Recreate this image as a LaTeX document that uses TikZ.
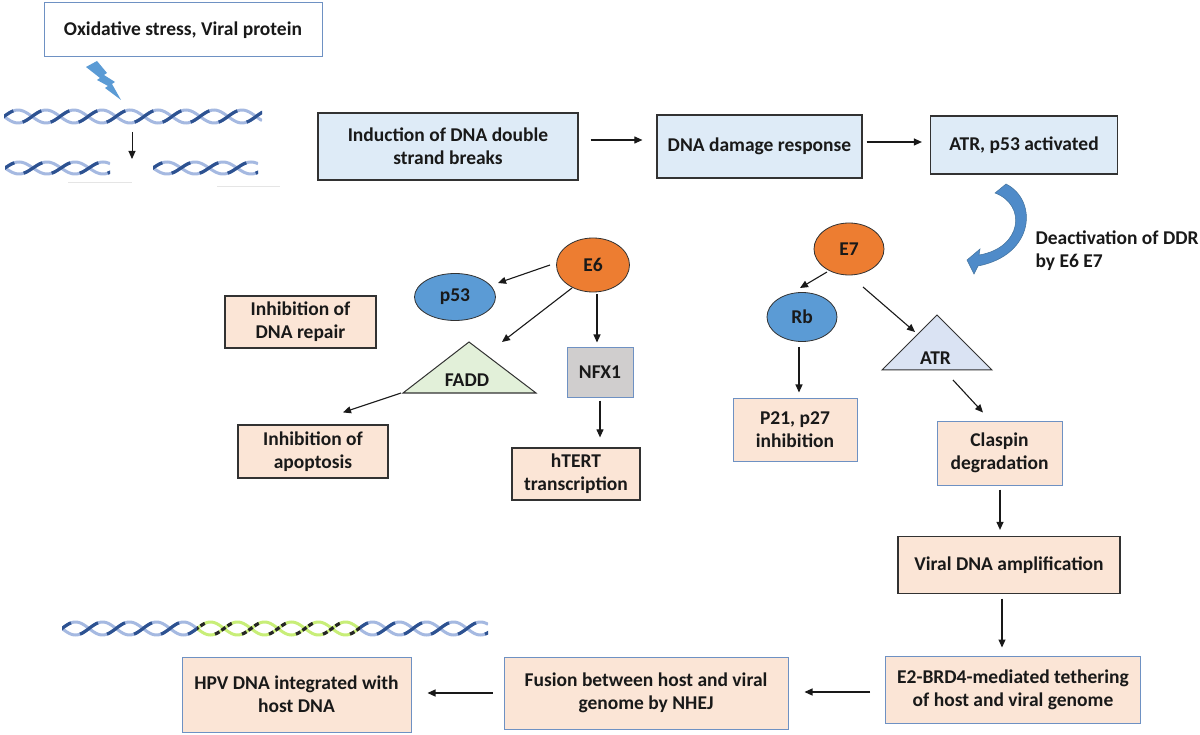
\documentclass[tikz,border=0pt]{standalone}
\usepackage{fontspec}
\setmainfont{Carlito}
\usetikzlibrary{arrows.meta,calc,shapes.geometric}
\definecolor{peach}{RGB}{251,229,214}
\definecolor{lblue}{RGB}{222,235,247}
\definecolor{orng}{RGB}{237,125,49}
\definecolor{mblue}{RGB}{91,155,213}
\definecolor{lgreen}{RGB}{226,240,217}
\definecolor{tblue}{RGB}{218,227,243}
\definecolor{gbox}{RGB}{208,206,206}
\definecolor{dkline}{RGB}{50,50,50}
\definecolor{bline}{RGB}{110,145,195}
\definecolor{arrowblue}{RGB}{79,139,201}
\definecolor{arrowedge}{RGB}{65,113,156}
\definecolor{helixdark}{RGB}{45,82,145}
\definecolor{helixlight}{RGB}{165,185,225}
\definecolor{helixgreen}{RGB}{200,238,120}
\tikzset{
  bluefront/.style={draw=helixdark},
  blueback/.style={draw=helixlight},
  greenback/.style={draw=helixgreen},
  greenfront/.style={draw=black!85, dash pattern=on 5pt off 2.5pt},
}
% #1 x0, #2 x1, #3 phase origin, #4 centre y, #5 amplitude, #6 period, #7 back style, #8 front style
\newcommand{\helixrib}[8]{%
  \begin{scope}
    \clip (#1,#4-#5-5) rectangle (#2,#4+#5+5);
    \draw[#7, line width=3pt] plot[domain=#1:#2, samples=120, smooth] (\x,{#4+#5*sin((\x-#3)/#6*360)});
    \draw[#7, line width=3pt] plot[domain=#1:#2, samples=120, smooth] (\x,{#4-#5*sin((\x-#3)/#6*360)});
    \foreach \j in {-1,...,18}{%
      \pgfmathsetmacro{\xs}{#3+#6/4+\j*#6/2}%
      \pgfmathsetmacro{\xa}{\xs+#6/12}%
      \pgfmathsetmacro{\xb}{\xs+#6/2-#6/12}%
      \draw[#8, line width=3.2pt] plot[domain=\xa:\xb, samples=10, smooth] (\x,{#4+#5*cos((\x-\xs)/#6*360)});
    }
  \end{scope}
}
\begin{document}
\begin{tikzpicture}[x=1pt,y=-1pt,
  txt/.style={font=\fontsize{19.5}{23}\selectfont\bfseries, text=black!90, align=center},
  dbox/.style={txt, draw=dkline, line width=1.2pt, rectangle, inner sep=0pt},
  bbox/.style={txt, draw=bline, line width=1pt, rectangle, inner sep=0pt},
  oval/.style={txt, draw=dkline, line width=0.8pt, ellipse, inner sep=0pt},
  arr/.style={-{Triangle[length=8pt,width=7pt]}, line width=1.1pt, draw=black!90},
  tri/.style={draw=dkline, line width=1pt, line join=miter},
]
\useasboundingbox (0,0) rectangle (1200,735);
\fill[white] (0,0) rectangle (1200,735);

% top-left: stress box, bolt, DNA
\node[bbox, fill=white, minimum width=278pt, minimum height=54pt] (ox) at (183,30) {Oxidative stress, Viral protein};
\fill[mblue] (86,67) -- (97,61) -- (107,73) -- (104,75) -- (115,82) -- (112,84) -- (121,100) -- (105,88) -- (108,86) -- (97,80) -- (100,78) -- cycle;
\helixrib{4}{262}{4}{116.5}{6.5}{56}{blueback}{bluefront}
\helixrib{5}{110}{5}{168}{6}{56}{blueback}{bluefront}
\helixrib{153}{258}{153}{168}{6}{56}{blueback}{bluefront}
\draw[black!10, line width=1pt] (68,183) -- (132,183);
\draw[black!10, line width=1pt] (217,187) -- (280,187);
\coordinate (hxa) at (132,132);
\coordinate (hxb) at (132,159);
\draw[arr, line width=0.9pt] (hxa) -- (hxb);

% top row
\node[dbox, fill=lblue, minimum width=260pt, minimum height=67pt] (ind) at (448,146.5) {Induction of DNA double\\strand breaks};
\node[dbox, fill=lblue, minimum width=205pt, minimum height=63pt] (ddr) at (759.5,146.5) {DNA damage response};
\node[dbox, fill=lblue, minimum width=187pt, minimum height=58pt] (atrp) at (1024,145) {ATR, p53 activated};
\draw[arr] ($(ind.east)+(12,-6.5)$) -- ($(ddr.west)+(-14,-6.5)$);
\draw[arr] ($(ddr.east)+(4,-4.5)$) -- ($(atrp.west)+(-8,-3)$);

% curved block arrow
\filldraw[fill=arrowblue, draw=arrowedge, line width=0.5pt, line join=miter]
  (1006,184) .. controls (1038,200) and (1035,255) .. (978,266)
  -- (974,274) -- (967,260) -- (980,249) -- (979,255)
  .. controls (1022,248) and (1027,205) .. (995,193) -- cycle;
\node[txt, anchor=west, align=left] (deact) at (1032,251) {Deactivation of DDR\\by E6 E7};

% E6 branch
\node[oval, fill=orng, minimum width=73pt, minimum height=54pt] (e6) at (593,265) {E6};
\node[oval, fill=mblue, minimum width=81pt, minimum height=47pt] (p53) at (455,297) {p53};
\node[dbox, fill=peach, minimum width=151pt, minimum height=52pt] (inh) at (300.5,322) {Inhibition of\\DNA repair};
\coordinate (faddtop) at (469,342);
\coordinate (faddl) at (403,393);
\coordinate (faddr) at (536,393);
\filldraw[tri, fill=lgreen] (faddtop) -- (faddr) -- (faddl) -- cycle;
\node[txt] (fadd) at (467,380) {FADD};
\node[bbox, fill=gbox, minimum width=66pt, minimum height=49pt] (nfx) at (600,372.5) {NFX1};
\node[dbox, fill=peach, minimum width=150pt, minimum height=53pt] (apop) at (313,451.5) {Inhibition of\\apoptosis};
\node[dbox, fill=peach, minimum width=128pt, minimum height=52pt] (htert) at (576,474) {hTERT\\transcription};
\draw[arr] ($(e6)+(-43,0)$) -- ($(p53)+(43,-14)$);
\draw[arr] ($(e6)+(-21,23)$) -- ($(faddtop)+(33,0)$);
\draw[arr] ($(e6.south)+(4,2)$) -- ($(nfx.north)+(-3,-5)$);
\draw[arr] ($(faddl)+(-2,0)$) -- ($(apop.north)+(30,-12)$);
\draw[arr] ($(nfx.south)+(0,3)$) -- ($(htert.north)+(24,-10)$);

% E7 branch
\node[oval, fill=orng, minimum width=70pt, minimum height=52pt] (e7) at (849,249) {E7};
\node[oval, fill=mblue, minimum width=70pt, minimum height=49pt] (rb) at (802,317) {Rb};
\coordinate (atrtop) at (937,315);
\coordinate (atrl) at (882,370);
\coordinate (atrr) at (992,370);
\filldraw[tri, fill=tblue] (atrtop) -- (atrr) -- (atrl) -- cycle;
\node[txt] (atr) at (935.5,358) {ATR};
\node[bbox, fill=peach, minimum width=124pt, minimum height=63pt] (p21) at (795,429.5) {P21, p27\\inhibition};
\node[bbox, fill=peach, minimum width=125pt, minimum height=64pt] (clasp) at (999.5,453) {Claspin\\degradation};
\draw[arr] ($(e7)+(-22,23)$) -- ($(rb)+(-2,-29)$);
\draw[arr] ($(e7)+(14,38)$) -- ($(atrtop)+(-22,17)$);
\draw[arr] ($(rb.south)+(-3,5)$) -- ($(p21.north)+(4,-5)$);
\draw[arr] ($(atrtop)+(16,65)$) -- ($(clasp.north)+(-16.5,-8)$);

% lower chain
\node[dbox, fill=peach, minimum width=222pt, minimum height=57pt] (viral) at (1009,565) {Viral DNA amplification};
\node[bbox, fill=peach, minimum width=255pt, minimum height=67pt] (e2) at (1013,689.5) {E2-BRD4-mediated tethering\\of host and viral genome};
\node[bbox, fill=peach, minimum width=284pt, minimum height=72pt] (fus) at (646,693) {Fusion between host and viral\\genome by NHEJ};
\node[bbox, fill=peach, minimum width=229pt, minimum height=75pt] (hpv) at (296.5,694.5) {HPV DNA integrated with\\host DNA};
\draw[arr] ($(clasp.south)+(0.5,4)$) -- ($(viral.north)+(-9,-6)$);
\draw[arr] ($(viral.south)+(-7,4.5)$) -- ($(e2.north)+(-11,-8)$);
\draw[arr] ($(e2.west)+(-15,2.5)$) -- ($(fus.east)+(16,-1)$);
\draw[arr] ($(fus.west)+(-11,0)$) -- ($(hpv.east)+(16,-1.5)$);

% integrated DNA
\helixrib{62}{197}{62}{628.5}{6.5}{54}{blueback}{bluefront}
\helixrib{197}{360}{62}{628.5}{6.5}{54}{greenback}{greenfront}
\helixrib{360}{488}{62}{628.5}{6.5}{54}{blueback}{bluefront}
\end{tikzpicture}
\end{document}
